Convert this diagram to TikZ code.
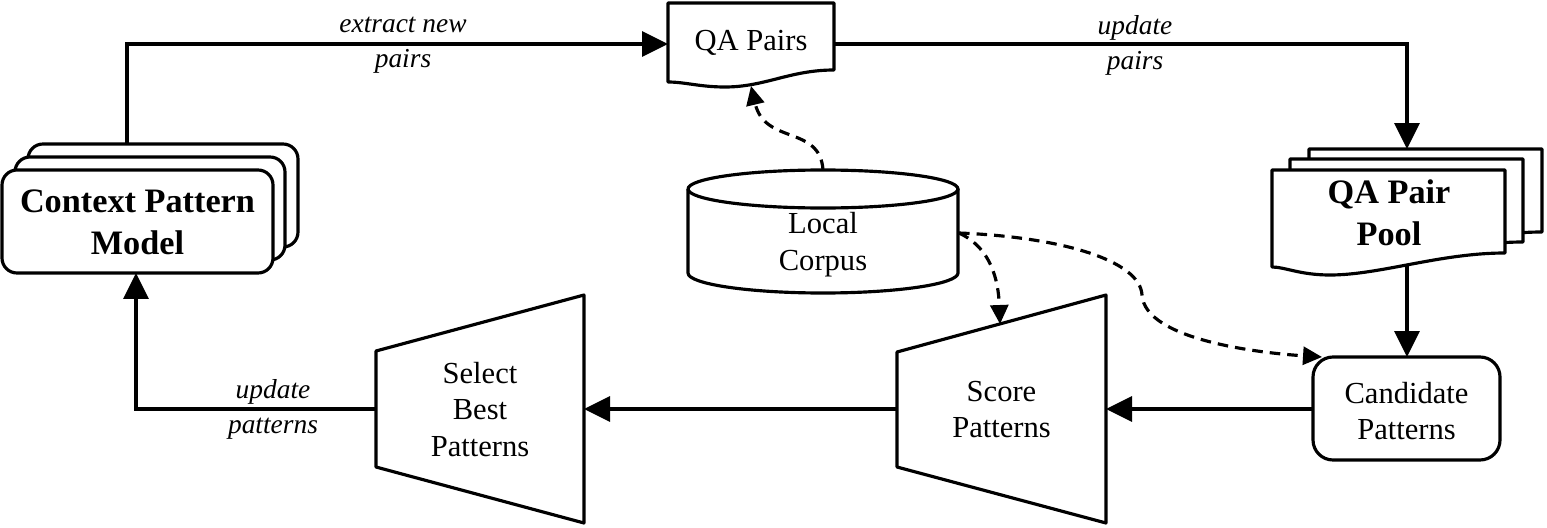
\documentclass[tikz,border=0pt]{standalone}
\usepackage{fontspec}
\setmainfont{Liberation Serif}
\usetikzlibrary{arrows.meta}
\tikzset{
  outline/.style={draw=black, line width=1.8pt, fill=white, line join=round},
  conn/.style={draw=black, line width=1.8pt, -{Triangle[length=0.52cm,width=0.5cm]}},
  dconn/.style={draw=black, line width=1.8pt, dash pattern=on 6pt off 4pt, -{Triangle[length=0.38cm,width=0.36cm]}},
  txt/.style={font=\fontsize{17.4}{21}\selectfont, align=center, inner sep=0pt},
  btxt/.style={font=\fontsize{19.5}{24}\bfseries\selectfont, align=center, inner sep=0pt},
  etxt/.style={font=\fontsize{15.6}{20}\itshape\selectfont, align=center, inner sep=0pt},
}
\begin{document}
\begin{tikzpicture}[x=0.02cm,y=-0.02cm]
\useasboundingbox (0,0) rectangle (1547,527);

% Context Pattern Model (stack)
\draw[outline, rounded corners=0.3cm] (28,144) rectangle (298,247);
\draw[outline, rounded corners=0.3cm] (15,157) rectangle (285,260);
\draw[outline, rounded corners=0.3cm] (2,170) rectangle (273,273);
\node[btxt] (cpm) at (137.5,222) {Context Pattern\\Model};
\coordinate (cpmtop) at (127,144);
\coordinate (cpmbot) at (136,273);

% QA Pairs (document)
\draw[outline] (668,3) -- (834,3) -- (834,70) .. controls (790,70) and (765,87) .. (725,87) .. controls (700,87) and (685,82) .. (668,82) -- cycle;
\node[txt] (qa) at (751,43) {QA Pairs};
\coordinate (qaleft) at (668,44);
\coordinate (qaright) at (834,44);
\coordinate (qabot) at (751,86);

% QA Pair Pool (stacked documents)
\draw[outline] (1309,149) -- (1542,149) -- (1542,232) .. controls (1477,232) and (1417,254) .. (1367,254) .. controls (1337,254) and (1322,246) .. (1309,246) -- cycle;
\draw[outline] (1290,159) -- (1523,159) -- (1523,242) .. controls (1458,242) and (1398,264) .. (1348,264) .. controls (1318,264) and (1303,256) .. (1290,256) -- cycle;
\draw[outline] (1272,170) -- (1505,170) -- (1505,253) .. controls (1440,253) and (1380,275) .. (1330,275) .. controls (1300,275) and (1285,267) .. (1272,267) -- cycle;
\node[btxt] (pool) at (1389,213) {QA Pair\\Pool};
\coordinate (pooltop) at (1407,149);
\coordinate (poolbot) at (1407,264);

% Local Corpus (cylinder)
\draw[outline] (688,189) -- (688,273) .. controls (688,284) and (748.5,293) .. (823,293) .. controls (897.5,293) and (958,284) .. (958,273) -- (958,189);
\draw[outline] (688,189) .. controls (688,178.5) and (748.5,170) .. (823,170) .. controls (897.5,170) and (958,178.5) .. (958,189) .. controls (958,199.5) and (897.5,208) .. (823,208) .. controls (748.5,208) and (688,199.5) .. (688,189) -- cycle;
\node[txt] (lc) at (823,244.5) {Local\\Corpus};
\coordinate (lctop) at (823,170);
\coordinate (lcright) at (959,233);

% Candidate Patterns
\draw[outline, rounded corners=0.4cm] (1313,357) rectangle (1500,460);
\node[txt] (cand) at (1406.5,411) {Candidate\\Patterns};
\coordinate (candtop) at (1407,357);
\coordinate (candleft) at (1313,409);
\coordinate (candtl) at (1322,357);

% Score Patterns (trapezoid)
\draw[outline] (897,352) -- (1106,295) -- (1106,523) -- (897,467) -- cycle;
\node[txt] (score) at (1001.5,409.5) {Score\\Patterns};
\coordinate (scoreright) at (1106,409);
\coordinate (scoreleft) at (897,409);
\coordinate (scoretop) at (1000,324);

% Select Best Patterns (trapezoid)
\draw[outline] (376,351) -- (584,295) -- (584,523) -- (376,467) -- cycle;
\node[txt] (sel) at (480,409.5) {Select\\Best\\Patterns};
\coordinate (selright) at (584,409);
\coordinate (selleft) at (376,409);

% Connectors
\draw[conn] (cpmtop) |- (qaleft);
\node[etxt] (lbl1) at (403,45) {extract new\\pairs};
\draw[conn] (qaright) -| (pooltop);
\node[etxt] (lbl2) at (1135,45) {update\\pairs};
\draw[conn] (poolbot) -- (candtop);
\draw[conn] (candleft) -- (scoreright);
\draw[conn] (scoreleft) -- (selright);
\draw[conn] (selleft) -| (cpmbot);
\node[etxt] (lbl3) at (273,409) {update\\patterns};

\draw[dconn] (lctop) .. controls (820,125) and (765,145) .. (qabot);
\draw[dconn] (lcright) .. controls (985,245) and (998,270) .. (scoretop);
\draw[dconn] (lcright) .. controls (1060,237) and (1140,260) .. (1142,295) .. controls (1145,340) and (1260,353) .. (candtl);
\end{tikzpicture}
\end{document}
